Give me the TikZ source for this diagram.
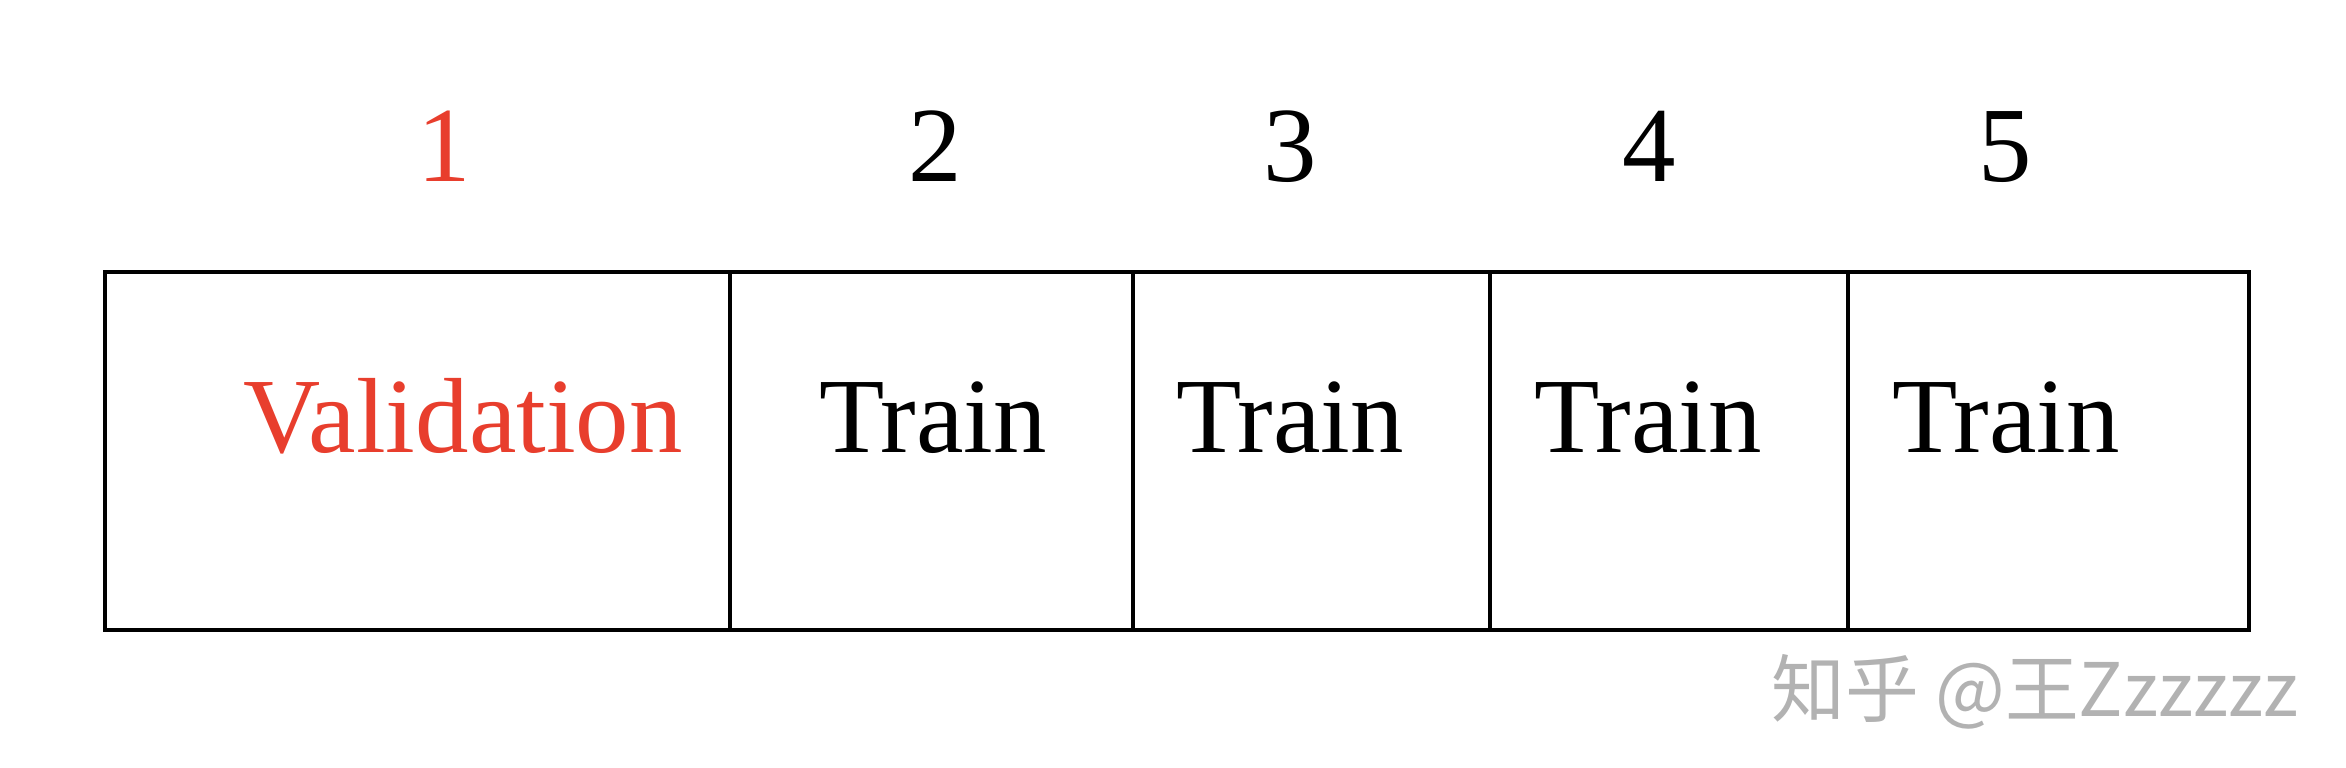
\documentclass[tikz,border=0pt]{standalone}
\usepackage{fontspec}
\setmainfont{Liberation Serif}
\newfontfamily\cjk{Noto Sans CJK SC}
\usetikzlibrary{positioning}
\definecolor{valred}{RGB}{232,62,45}
\definecolor{markgray}{RGB}{178,178,178}
\tikzset{
  lbl/.style={anchor=base,inner sep=0pt,font=\fontsize{30.4}{36}\selectfont},
  cell/.style={line width=0.9pt,black},
  frame/.style={line width=1.2pt,black}
}
\begin{document}
\begin{tikzpicture}[node distance=1cm]
\useasboundingbox (0,0) rectangle (23.46,7.68);
\foreach \x in {7.30,11.33,14.90,18.48}
  \draw[cell] (\x,1.38) -- (\x,4.96);
\draw[frame] (1.05,1.38) rectangle (22.49,4.96);
\node[lbl,valred] (n1) at (4.44,5.86) {1};
\node[lbl] (n2) at (9.35,5.86) {2};
\node[lbl] (n3) at (12.90,5.86) {3};
\node[lbl] (n4) at (16.49,5.86) {4};
\node[lbl] (n5) at (20.05,5.86) {5};
\node[lbl,valred] (val) at (4.63,3.15) {Validation};
\node[lbl] (tr2) at (9.33,3.15) {Train};
\node[lbl] (tr3) at (12.90,3.15) {Train};
\node[lbl] (tr4) at (16.48,3.15) {Train};
\node[lbl] (tr5) at (20.06,3.15) {Train};
\node[markgray,inner sep=0pt,font=\cjk\fontsize{21}{24}\selectfont] (mark) at (20.35,0.76) {知乎 @王Zzzzzz};
\end{tikzpicture}
\end{document}
